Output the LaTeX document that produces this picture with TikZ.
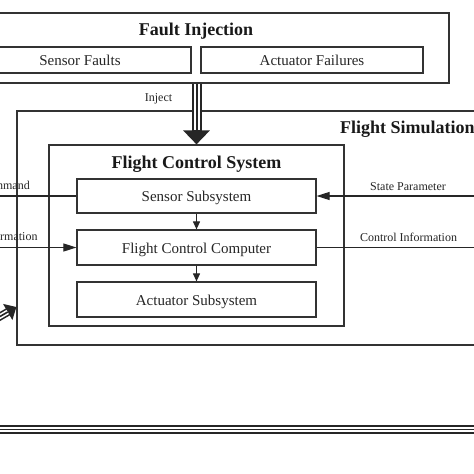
\documentclass[tikz,border=0pt]{standalone}
\usepackage{fontspec}
\setmainfont{Liberation Serif}
\usetikzlibrary{arrows.meta}
\definecolor{lgray}{rgb}{0.2,0.2,0.2}
\tikzset{
  box/.style={draw=lgray, line width=1.2pt, text=black!85, inner sep=0pt,
    font=\fontsize{15}{18}\selectfont, text height=11pt, text depth=0pt},
  frame/.style={draw=lgray, line width=1.2pt, inner sep=0pt},
  lbl/.style={font=\fontsize{12}{14}\selectfont, inner sep=0pt, text=black!85},
  ttl/.style={font=\fontsize{18}{21}\selectfont\bfseries, inner sep=0pt, text=black!90},
  conn/.style={draw=black!85, line width=1.1pt},
  tip/.style={-{Triangle[length=13pt,width=8pt]}},
  smalltip/.style={-{Triangle[length=8pt,width=7pt]}},
}

\begin{document}
\begin{tikzpicture}[x=1pt,y=-1pt]
\useasboundingbox (0,0) rectangle (474,474);
\clip (0,0) rectangle (474,474);
\fill[white] (0,0) rectangle (474,474);

% fault injection block
\node[frame, minimum width=506pt, minimum height=70pt] (fi) at (196,48) {};
\node[ttl, anchor=base] (fititle) at (196,35.5) {Fault Injection};
\node[box, minimum width=222pt, minimum height=26pt] (sf) at (80,60) {Sensor Faults};
\node[box, minimum width=222pt, minimum height=26pt] (af) at (312,60) {Actuator Failures};

% flight simulation block
\node[frame, minimum width=543pt, minimum height=234pt] (fs) at (288.5,228) {};
\node[ttl, anchor=base west] (fstitle) at (340,133) {Flight Simulation};
\node[frame, minimum width=295pt, minimum height=181pt] (fcs) at (196.5,235.5) {};
\node[ttl, anchor=base] (fcstitle) at (196.5,168) {Flight Control System};
\node[box, minimum width=239pt, minimum height=34pt] (ss) at (196.5,196) {Sensor Subsystem};
\node[box, minimum width=239pt, minimum height=35pt] (fcc) at (196.5,247.5) {Flight Control Computer};
\node[box, minimum width=239pt, minimum height=35pt] (as) at (196.5,299.5) {Actuator Subsystem};

% inject arrow
\draw[line width=10pt, black!85, -{Triangle[length=14pt,width=26pt]}] (fi.south -| fcs.north) -- (fcs.north);
\draw[white, line width=6pt, shorten >=14pt] (fi.south -| fcs.north) -- (fcs.north);
\draw[black!85, line width=2pt, shorten >=14pt] (fi.south -| fcs.north) -- (fcs.north);
\node[lbl, anchor=base] (inject) at (158.5,101) {Inject};

% inner connectors
\draw[conn, smalltip] (ss) -- (fcc);
\draw[conn, smalltip] (fcc) -- (as);

\coordinate (cmdin) at (-10,196);
\coordinate (infin) at (-10,247.5);
\coordinate (spin) at (480,196);
\coordinate (ciout) at (480,247.5);
\draw[conn] (cmdin) -- (ss.west);
\draw[conn, tip] (infin) -- (fcc.west);
\draw[conn, tip] (spin) -- (ss.east);
\draw[conn] (fcc.east) -- (ciout);

\node[lbl, anchor=base east] (cmd) at (30,189.5) {Command};
\node[lbl, anchor=base east] (info) at (37.7,240) {Information};
\node[lbl, anchor=base] (state) at (408,190.5) {State Parameter};
\node[lbl, anchor=base] (ctrl) at (408.5,241.5) {Control Information};

% lower left arrow into the simulation
\coordinate (lltail) at (-20,328);
\coordinate (lltip) at (fs.west |- 0,307);
\draw[line width=8pt, black!85, -{Triangle[length=10pt,width=18pt]}] (lltail) -- (lltip);
\draw[white, line width=4.8pt, shorten >=10pt] (lltail) -- (lltip);
\draw[black!85, line width=1.6pt, shorten >=10pt] (lltail) -- (lltip);

% bottom bus
\coordinate (busl) at (-5,429.5);
\coordinate (busr) at (480,429.5);
\draw[line width=9pt, black!85] (busl) -- (busr);
\draw[white, line width=5.4pt] (busl) -- (busr);
\draw[black!85, line width=1.8pt] (busl) -- (busr);
\end{tikzpicture}
\end{document}
